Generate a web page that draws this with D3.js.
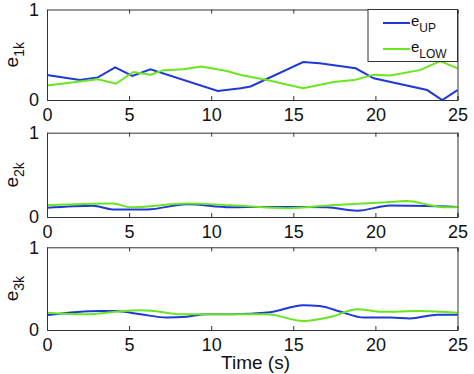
<!DOCTYPE html>
<html><head><meta charset="utf-8">
<script src="https://cdn.jsdelivr.net/npm/d3@7"></script>
<style>body{margin:0;background:#fff}svg{display:block}text{font-family:"Liberation Sans",Arial,sans-serif}</style>
</head><body><svg id="c" width="474" height="374"></svg>
<script>
const xTicks=[0,5,10,15,20,25];
const yTicks=[0,1];
const panelLabels=["1k","2k","3k"];
const legendLabels=["UP","LOW"];
// panel 1
const up1T=[0,2,3.1,4.15,5.2,6.3,10.4,11.8,12.4,15.6,16.6,18.8,19.9,23.15,24.07,25];
const up1V=[0.276,0.22,0.25,0.36,0.265,0.34,0.10,0.13,0.15,0.42,0.405,0.35,0.24,0.11,0.0,0.11];
const low1T=[0,3.1,4.2,5.26,6.3,7.1,8.3,9.4,10.95,11.8,13.4,15.6,17.45,18.7,19.9,20.9,22.7,23.96,25];
const low1V=[0.16,0.23,0.18,0.31,0.28,0.33,0.34,0.37,0.32,0.276,0.22,0.13,0.2,0.22,0.28,0.27,0.33,0.43,0.35];
// panel 2
const up2T=[0,2.8,4.0,6.1,8.5,11.2,13.2,15.5,17.05,18.9,20.9,25];
const up2V=[0.11,0.134,0.09,0.09,0.15,0.115,0.12,0.12,0.115,0.075,0.135,0.12];
const low2T=[0,4.0,5.1,8.5,11.2,14.6,17.3,20.7,21.9,23.35,24.2,25];
const low2V=[0.14,0.16,0.115,0.16,0.14,0.105,0.14,0.175,0.19,0.14,0.115,0.12];
// panel 3
const up3T=[0,3.2,4.15,5.7,7.3,8.5,9.7,11.2,13.6,15.6,16.6,17.9,19.3,20.9,22.1,23.8,25];
const up3V=[0.18,0.23,0.23,0.19,0.15,0.16,0.19,0.19,0.215,0.30,0.29,0.22,0.15,0.15,0.14,0.185,0.185];
const low3T=[0,2.4,4.15,5.7,6.5,8.1,11.2,13.4,15.6,17.3,18.9,20.4,22.7,25];
const low3V=[0.21,0.19,0.22,0.24,0.23,0.19,0.19,0.19,0.11,0.16,0.25,0.22,0.23,0.21];

const colors=["#2038d8","#68e620"];
const panels=[
 {top:9.5,bottom:100,series:[[up1T,up1V],[low1T,low1V]],curve:d3.curveLinear},
 {top:132.7,bottom:217,series:[[up2T,up2V],[low2T,low2V]],curve:d3.curveMonotoneX},
 {top:247.3,bottom:330,series:[[up3T,up3V],[low3T,low3V]],curve:d3.curveMonotoneX}
];
const svg=d3.select("#c");
const L=47,R=457.5;
const x=d3.scaleLinear().domain([0,25]).range([L,R]);
panels.forEach((p,i)=>{
  const y=d3.scaleLinear().domain([0,1]).range([p.bottom,p.top]);
  const g=svg.append("g");
  p.series.forEach((s,k)=>{
    const pts=s[0].map((t,j)=>[t,s[1][j]]);
    g.append("path").attr("d",d3.line().x(d=>x(d[0])).y(d=>y(d[1])).curve(p.curve)(pts))
     .attr("fill","none").attr("stroke",colors[k]).attr("stroke-width",2);
  });
  const ax=g.append("g").attr("transform",`translate(0,${p.bottom})`)
    .call(d3.axisBottom(x).tickValues(xTicks).tickSize(-4).tickPadding(8).tickFormat(d3.format("d")));
  const axT=g.append("g").attr("transform",`translate(0,${p.top})`)
    .call(d3.axisTop(x).tickValues(xTicks).tickSize(-4).tickFormat(""));
  const ay=g.append("g").attr("transform",`translate(${L},0)`)
    .call(d3.axisLeft(y).tickValues(yTicks).tickSize(0).tickPadding(8).tickFormat(d3.format("d")));
  const ayR=g.append("g").attr("transform",`translate(${R},0)`)
    .call(d3.axisRight(y).tickValues(yTicks).tickSize(0).tickFormat(""));
  [ax,axT,ay,ayR].forEach(a=>{a.selectAll(".domain").attr("stroke","#333").attr("stroke-width",1);
    a.selectAll(".tick line").attr("stroke","#333");
    a.selectAll("text").attr("font-size",18).attr("fill","#111").attr("font-family","Liberation Sans, Arial, sans-serif");});
  const cy=(p.top+p.bottom)/2;
  const yt=g.append("text").attr("transform",`translate(18,${cy}) rotate(-90)`).attr("text-anchor","middle")
    .attr("font-size",19).attr("fill","#111");
  yt.append("tspan").text("e");
  yt.append("tspan").attr("dy",6).attr("font-size",14).text(panelLabels[i]);
});
svg.append("text").attr("x",x(12.7)).attr("y",369).attr("text-anchor","middle").attr("font-size",19).attr("fill","#111").text("Time (s)");
const lg=svg.append("g");
lg.append("rect").attr("x",368).attr("y",9.5).attr("width",R-368).attr("height",52).attr("fill","#fff").attr("stroke","#333");
legendLabels.forEach((lab,k)=>{
  const yy=23+k*26;
  lg.append("line").attr("x1",383).attr("x2",410).attr("y1",yy).attr("y2",yy).attr("stroke",colors[k]).attr("stroke-width",2);
  const t=lg.append("text").attr("x",411).attr("y",yy+3).attr("font-size",15).attr("fill","#111");
  t.append("tspan").text("e");
  t.append("tspan").attr("dy",6).attr("font-size",12).text(lab);
});
</script></body></html>
